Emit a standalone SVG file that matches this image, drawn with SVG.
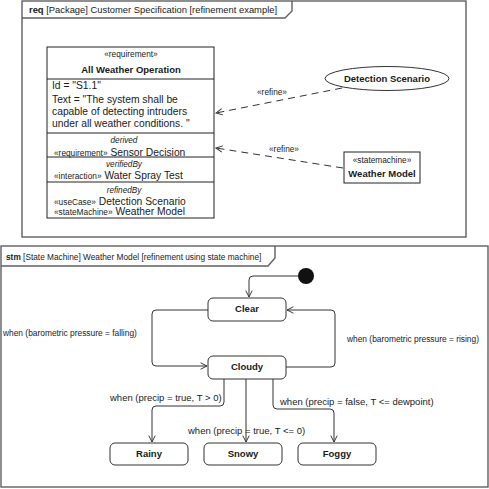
<svg xmlns="http://www.w3.org/2000/svg" width="489" height="489" viewBox="0 0 489 489">
<style>
text{font-family:"Liberation Sans",Arial,sans-serif;fill:#1a1a1a}
.frame{fill:none;stroke:#606060;stroke-width:1.4}
.box{fill:#fff;stroke:#222;stroke-width:1}
.st{fill:#fff;stroke:#333;stroke-width:1}
.hdr{font-size:9.4px}
.b{font-weight:bold}
.ster{font-size:8.3px}
.body{font-size:10.3px}
.it{font-size:8.2px;font-style:italic}
.nm{font-size:9.5px;font-weight:bold}
.lbl{font-size:9.5px}
.lbs{font-size:8.4px}
.dep{fill:none;stroke:#333;stroke-width:1;stroke-dasharray:7,5}
.tr{fill:none;stroke:#333;stroke-width:1}
</style>
<defs>
<marker id="open" viewBox="0 0 10 10" refX="9" refY="5" markerWidth="8" markerHeight="8" markerUnits="userSpaceOnUse" orient="auto">
<path d="M1,1 L9,5 L1,9" fill="none" stroke="#333" stroke-width="1.2"/>
</marker>
</defs>
<rect width="489" height="489" fill="#fff"/>

<g id="req-frame">
<rect class="frame" x="22" y="1" width="444" height="236"/>
<path class="frame" d="M22,18 H285 L292,11 V1"/>
<text class="hdr" x="29" y="13"><tspan class="b">req</tspan> [Package] Customer Specification [refinement example]</text>
</g>

<g id="all-weather-operation">
<rect class="box" x="47" y="47" width="167" height="171"/>
<line class="box" x1="47" y1="79" x2="214" y2="79"/>
<line class="box" x1="47" y1="133" x2="214" y2="133"/>
<line class="box" x1="47" y1="157" x2="214" y2="157"/>
<line class="box" x1="47" y1="182" x2="214" y2="182"/>
<text class="ster" x="131" y="57" text-anchor="middle">«requirement»</text>
<text class="nm" x="131" y="72.5" text-anchor="middle">All Weather Operation</text>
<text class="body" x="52" y="89">Id = "S1.1"</text>
<text class="body" x="52" y="102.5">Text = "The system shall be</text>
<text class="body" x="52" y="115">capable of detecting intruders</text>
<text class="body" x="52" y="127">under all weather conditions. "</text>
<text class="it" x="124" y="143" text-anchor="middle">derived</text>
<text x="54" y="155.5"><tspan class="ster">«requirement»</tspan><tspan class="body"> Sensor Decision</tspan></text>
<text class="it" x="124" y="167" text-anchor="middle">verifiedBy</text>
<text x="54" y="179"><tspan class="ster">«interaction»</tspan><tspan class="body"> Water Spray Test</tspan></text>
<text class="it" x="124" y="193" text-anchor="middle">refinedBy</text>
<text x="54" y="204.5"><tspan class="ster">«useCase»</tspan><tspan class="body"> Detection Scenario</tspan></text>
<text x="54" y="215"><tspan class="ster">«stateMachine»</tspan><tspan class="body"> Weather Model</tspan></text>
</g>

<g id="detection-scenario">
<ellipse class="st" cx="387" cy="78.5" rx="62" ry="12"/>
<text class="nm" x="387" y="81.5" text-anchor="middle">Detection Scenario</text>
</g>

<g id="weather-model">
<rect class="box" x="344" y="152" width="76" height="31"/>
<text class="ster" x="382" y="162.5" text-anchor="middle">«statemachine»</text>
<text class="nm" x="382" y="177" text-anchor="middle">Weather Model</text>
</g>

<g id="stm-frame">
<rect class="frame" x="1" y="246" width="487" height="241"/>
<path class="frame" d="M1,266 H268 L275,258 V246"/>
<text x="6" y="260" style="font-size:8.3px"><tspan class="b">stm</tspan> [State Machine] Weather Model [refinement using state machine]</text>
</g>

<g id="initial">
<circle cx="306" cy="276" r="8" fill="#111"/>
</g>
<g id="clear">
<rect class="st" x="208" y="298" width="78" height="23" rx="5"/>
<text class="nm" x="247" y="312" text-anchor="middle">Clear</text>
</g>
<g id="cloudy">
<rect class="st" x="208" y="356" width="78" height="23" rx="5"/>
<text class="nm" x="247" y="370" text-anchor="middle">Cloudy</text>
</g>
<g id="rainy">
<rect class="st" x="110" y="443" width="78" height="22" rx="5"/>
<text class="nm" x="149" y="457" text-anchor="middle">Rainy</text>
</g>
<g id="snowy">
<rect class="st" x="204" y="443" width="78" height="22" rx="5"/>
<text class="nm" x="243" y="457" text-anchor="middle">Snowy</text>
</g>
<g id="foggy">
<rect class="st" x="298" y="443" width="78" height="22" rx="5"/>
<text class="nm" x="337" y="457" text-anchor="middle">Foggy</text>
</g>

<g id="connectors">
<path class="dep" d="M342,88 L216,113" marker-end="url(#open)"/>
<text class="ster" x="272" y="95" text-anchor="middle">«refine»</text>
<path class="dep" d="M343,168 L216,148" marker-end="url(#open)"/>
<text class="ster" x="284" y="152" text-anchor="middle">«refine»</text>

<path class="tr" d="M298,276 H253 Q249,276 249,280 V297" marker-end="url(#open)"/>
<path class="tr" d="M208,310 H156 Q152,310 152,314 V362 Q152,366 156,366 H207" marker-end="url(#open)"/>
<text class="lbs" x="3" y="336">when (barometric pressure = falling)</text>
<path class="tr" d="M286,367 H331 Q335,367 335,363 V314 Q335,310 331,310 H287" marker-end="url(#open)"/>
<text class="lbs" x="347" y="342">when (barometric pressure = rising)</text>
<path class="tr" d="M224,379 V402 Q224,406 220,406 H156 Q152,406 152,410 V442" marker-end="url(#open)"/>
<text class="lbl" x="110" y="400.5">when (precip = true, T &gt; 0)</text>
<path class="tr" d="M246,379 V442" marker-end="url(#open)"/>
<text class="lbl" x="188" y="433.5">when (precip = true, T &lt;= 0)</text>
<path class="tr" d="M273,379 V405 Q273,409 277,409 H330 Q334,409 334,413 V442" marker-end="url(#open)"/>
<text class="lbl" x="280" y="404.5">when (precip = false, T &lt;= dewpoint)</text>
</g>
</svg>
